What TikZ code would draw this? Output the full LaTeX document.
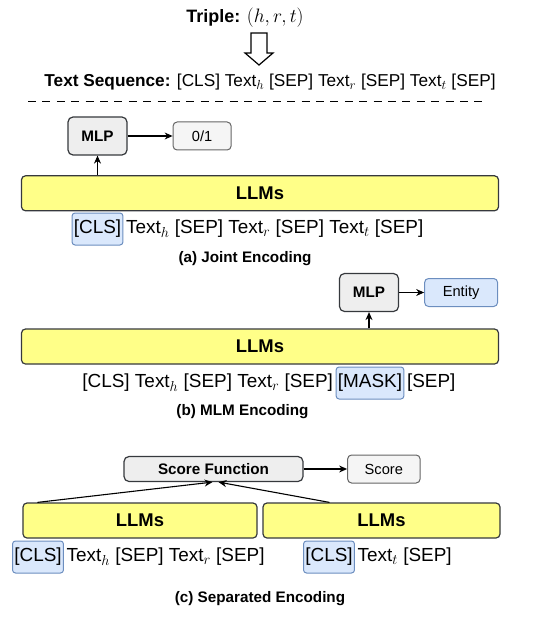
\RequirePackage{fix-cm}
\documentclass[tikz,border=0pt]{standalone}
\usepackage{amsmath}
\usepackage{fontspec}
\setmainfont{Liberation Sans}
\usepackage{xcolor}
\usepackage{tikz}
\usetikzlibrary{arrows.meta,positioning}

\DeclareMathSizes{19}{19}{14.5}{10}
\DeclareMathSizes{17.3}{17.3}{13.2}{9}

\definecolor{llmyellow}{HTML}{FFFF88}
\definecolor{darkline}{HTML}{36393D}
\definecolor{greyfill}{HTML}{EEEEEE}
\definecolor{lightfill}{HTML}{F5F5F5}
\definecolor{lightline}{HTML}{666666}
\definecolor{bluefill}{HTML}{DAE8FC}
\definecolor{blueline}{HTML}{6C8EBF}

\newcommand{\setsize}[1]{\fontsize{#1}{#1}\selectfont}

\tikzset{
  llmbar/.style={draw=darkline,fill=llmyellow,line width=1.2bp,rounded corners=4bp,minimum height=35bp,font=\bfseries\setsize{18.5}},
  mlpbox/.style={draw=darkline,fill=greyfill,line width=1.2bp,rounded corners=5bp,minimum width=59bp,minimum height=38bp,font=\bfseries\setsize{15.3}},
  outbox/.style={draw=lightline,fill=lightfill,line width=1bp,rounded corners=4bp,minimum height=28bp,font=\setsize{14.7}},
  entbox/.style={draw=blueline,fill=bluefill,line width=1bp,rounded corners=4bp,minimum height=28bp,font=\setsize{14.7}},
  hlbox/.style={draw=blueline,fill=bluefill,line width=1bp,rounded corners=3bp,minimum height=32bp,inner xsep=1.8bp,font=\setsize{19}},
  tok/.style={inner xsep=2.5bp,inner ysep=0bp,font=\setsize{19}},
  caption/.style={font=\bfseries\setsize{15.3}},
  link/.style={->,line width=1.1bp}
}

\begin{document}
\begin{tikzpicture}[x=1bp,y=-1bp,>={Stealth[length=8bp,width=7bp]}]
\useasboundingbox (0,0) rectangle (549,622);

% input triple and text sequence
\node[font=\bfseries\setsize{18}] (triple) at (245,18) {Triple: {\setsize{19.5}$(h,r,t)$}};
\draw[line width=1.2bp] (251,33) -- (267,33) -- (267,53) -- (273,53) -- (259,65) -- (245,53) -- (251,53) -- cycle;
\node[font=\setsize{17.3}] (seq) at (270,82) {\textbf{Text Sequence:} [CLS] Text$_h$ [SEP] Text$_r$ [SEP] Text$_t$ [SEP]};
\draw[line width=1.3bp,dash pattern=on 8bp off 6.4bp] (28,101.5) -- (488,101.5);

% (a) joint encoding
\node[llmbar,minimum width=477bp] (llmA) at (260,193.3) {LLMs};
\node[mlpbox] (mlpA) at (97.5,136) {MLP};
\node[outbox,minimum width=58bp,right=45bp of mlpA] (outA) {0/1};
\draw[link] (llmA.north -| mlpA) -- (mlpA);
\draw[link] (mlpA) -- (outA);
\node[hlbox] (clsA) at (97.5,229) {[CLS]};
\node[tok,anchor=base west] (restA) at (clsA.base east) {Text$_h$ [SEP] Text$_r$ [SEP] Text$_t$ [SEP]};
\node[caption] (capA) at (245,259) {(a) Joint Encoding};

% (b) MLM encoding
\node[llmbar,minimum width=477bp] (llmB) at (260,346.5) {LLMs};
\node[mlpbox] (mlpB) at (369,292.5) {MLP};
\node[entbox,minimum width=73bp,right=25bp of mlpB] (entB) {Entity};
\draw[link] (llmB.north -| mlpB) -- (mlpB);
\draw[link] (mlpB) -- (entB);
\node[hlbox] (maskB) at (370,383) {[MASK]};
\node[tok,anchor=base east] (leftB) at (maskB.base west) {[CLS] Text$_h$ [SEP] Text$_r$ [SEP]};
\node[tok,anchor=base west] (rightB) at (maskB.base east) {[SEP]};
\node[caption] (capB) at (242.5,412) {(b) MLM Encoding};

% (c) separated encoding
\node[mlpbox,minimum width=179bp,minimum height=25bp] (score) at (213.5,469) {Score Function};
\node[outbox,minimum width=72.5bp,right=43.5bp of score] (outC) {Score};
\draw[link] (score) -- (outC);
\node[llmbar,minimum width=234bp] (llmL) at (140,520.5) {LLMs};
\node[llmbar,minimum width=237bp] (llmR) at (381.5,520.5) {LLMs};
\draw[link] ([xshift=15bp]llmL.north west) -- ([xshift=-1bp]score.south);
\draw[link] ([xshift=-52bp]llmR.north) -- ([xshift=5bp]score.south);
\node[hlbox] (clsL) at (38,557) {[CLS]};
\node[tok,anchor=base west] (restL) at (clsL.base east) {Text$_h$ [SEP] Text$_r$ [SEP]};
\node[hlbox] (clsR) at (329,557) {[CLS]};
\node[tok,anchor=base west] (restR) at (clsR.base east) {Text$_t$ [SEP]};
\node[caption] (capC) at (260,599) {(c) Separated Encoding};
\end{tikzpicture}
\end{document}
